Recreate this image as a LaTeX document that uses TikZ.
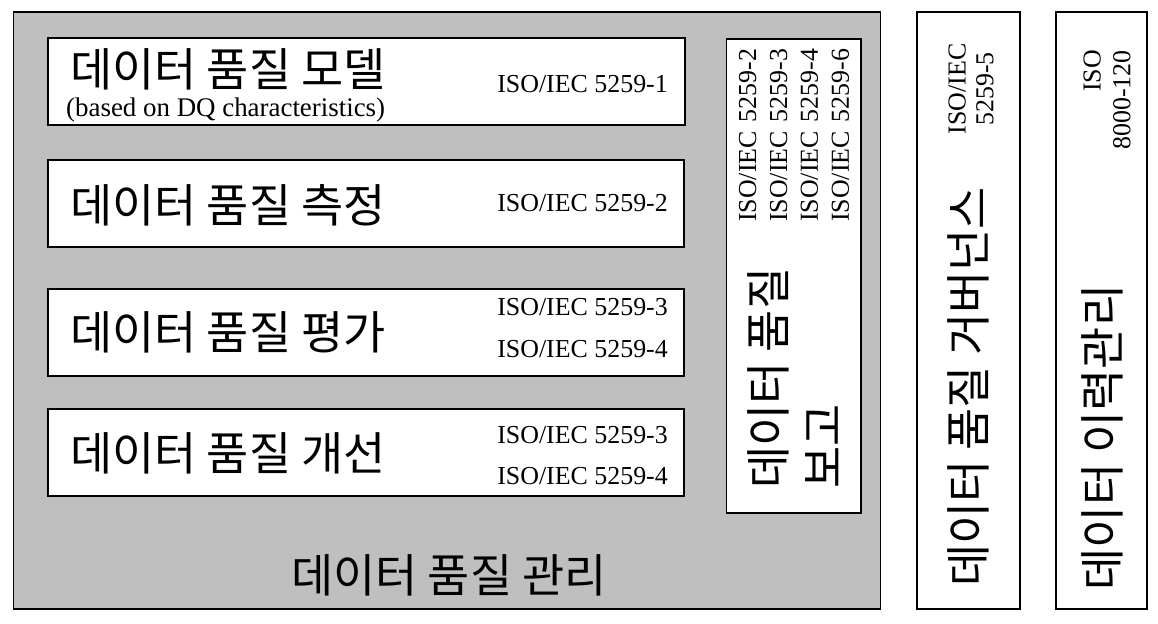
\documentclass[tikz,border=0pt]{standalone}
\usepackage{fontspec}
\setmainfont{Liberation Serif}
\newfontfamily\kr{Noto Sans CJK KR}
\usepackage{tikz}
\usetikzlibrary{positioning}
\definecolor{dqgray}{RGB}{191,191,191}

\begin{document}
\begin{tikzpicture}[x=1bp,y=1bp,
    outerbox/.style={draw,line width=1.5bp,fill=dqgray,inner sep=0},
    stdbox/.style={draw,line width=1.5bp,fill=white,inner sep=0},
    title/.style={inner sep=0,font=\kr\fontsize{46}{52}\selectfont},
    isotext/.style={inner sep=0,font=\fontsize{26}{42}\selectfont}]

        \useasboundingbox (0,0) rectangle (1158,-624);

        \node[outerbox,minimum width=870,minimum height=599] (dqm) at (447,-310.5) {};
        \node[stdbox,minimum width=639,minimum height=87] (model) at (366.5,-81.5) {};
        \node[stdbox,minimum width=638,minimum height=87] (measure) at (366,-203.5) {};
        \node[stdbox,minimum width=638,minimum height=87] (assess) at (366,-332.5) {};
        \node[stdbox,minimum width=638,minimum height=87] (improve) at (366,-452.5) {};
        \node[stdbox,minimum width=135,minimum height=476] (report) at (793.5,-276) {};
        \node[stdbox,minimum width=103,minimum height=599] (gov) at (968.5,-310.5) {};
        \node[stdbox,minimum width=91,minimum height=599] (hist) at (1101.5,-310.5) {};

        \node[title,anchor=west] (model_t) at (70,-69) {데이터 품질 모델};
        \node[isotext,anchor=west,font=\fontsize{27}{42}\selectfont] (model_s) at (66,-110) {(based on DQ characteristics)};
        \node[isotext,anchor=east] (model_iso) at (668,-84) {ISO/IEC 5259-1};

        \node[title,anchor=west] (measure_t) at (70,-205) {데이터 품질 측정};
        \node[isotext,anchor=east] (measure_iso) at (668,-203) {ISO/IEC 5259-2};

        \node[title,anchor=west] (assess_t) at (70,-332) {데이터 품질 평가};
        \node[isotext,anchor=east,align=right] (assess_iso) at (668,-328) {ISO/IEC 5259-3\\ISO/IEC 5259-4};

        \node[title,anchor=west] (improve_t) at (70,-453) {데이터 품질 개선};
        \node[isotext,anchor=east,align=right] (improve_iso) at (668,-455.5) {ISO/IEC 5259-3\\ISO/IEC 5259-4};

        \node[title] (dqm_t) at (449,-575) {데이터 품질 관리};

        \node[isotext,rotate=90,anchor=west,align=left,font=\fontsize{26}{31}\selectfont] (report_iso) at (794,-222)
            {ISO/IEC\hspace{9bp}5259-2\\ISO/IEC\hspace{9bp}5259-3\\ISO/IEC\hspace{9bp}5259-4\\ISO/IEC\hspace{9bp}5259-6};
        \node[title,rotate=90,anchor=west,align=left,font=\kr\fontsize{46}{56}\selectfont] (report_t) at (794,-489)
            {데이터 품질\\보고};

        \node[isotext,rotate=90,align=center,font=\fontsize{26}{28}\selectfont] (gov_iso) at (971,-89) {ISO/IEC\\5259-5};
        \node[title,rotate=90] (gov_t) at (968,-387) {데이터 품질 거버넌스};

        \node[isotext,rotate=90,anchor=east,align=right,font=\fontsize{26}{30}\selectfont] (hist_iso) at (1107,-50) {ISO\\8000-120};
        \node[title,rotate=90] (hist_t) at (1102,-437.5) {데이터 이력관리};
    \end{tikzpicture}
\end{document}
